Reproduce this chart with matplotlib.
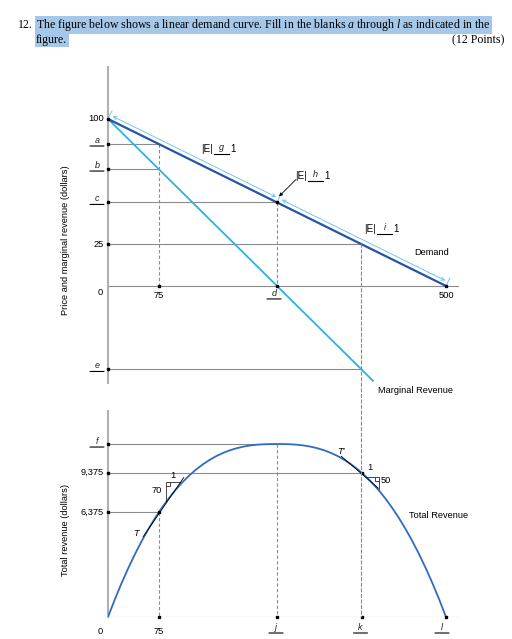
import numpy as np
import matplotlib
matplotlib.use('Agg')
from matplotlib import pyplot as plt
from matplotlib.path import Path
from matplotlib.patches import ConnectionPatch
from matplotlib.transforms import offset_copy

# ---- data ----
demand_q = [0, 500]
demand_p = [100, 0]
mr_q = [0, 392]
mr_p = [100, -56.8]

q_75, q_d, q_k, q_l = 75, 250, 375, 500
p_a, p_b, p_c, p_25, p_e = 85, 70, 50, 25, -50
q_axis_end = 518

tr_q = [0, 10, 20, 30, 40, 50, 60, 70, 80, 90, 100, 110, 120, 130, 140, 150, 160,
        170, 180, 190, 200, 210, 220, 230, 240, 250, 260, 270, 280, 290, 300, 310,
        320, 330, 340, 350, 360, 370, 380, 390, 400, 410, 420, 430, 440, 450, 460,
        470, 480, 490, 500]
tr_vals = [0, 980, 1920, 2820, 3680, 4500, 5280, 6020, 6720, 7380, 8000, 8580,
           9120, 9620, 10080, 10500, 10880, 11220, 11520, 11780, 12000, 12180,
           12320, 12420, 12480, 12500, 12480, 12420, 12320, 12180, 12000, 11780,
           11520, 11220, 10880, 10500, 10080, 9620, 9120, 8580, 8000, 7380, 6720,
           6020, 5280, 4500, 3680, 2820, 1920, 980, 0]
tr_f, tr_9375, tr_6375 = 12500, 9375, 6375
slope_t, slope_t2 = 70, -50

# ---- style ----
W, H = 512, 639
plt.rcParams['font.family'] = ['Liberation Sans', 'DejaVu Sans']
plt.rcParams['mathtext.fontset'] = 'custom'
plt.rcParams['mathtext.rm'] = 'Liberation Serif'
plt.rcParams['mathtext.it'] = 'Liberation Serif:italic'
GRAY = '#8c8c8c'
AXIS = '#b0b0b0'
DARK = '#2654a6'
CYAN = '#2cb2e6'
TRBLUE = '#2e6cc2'
LIGHT = '#72c6ee'
FS = 6.7


def box(l, t, r, b):
    return [l / W, 1 - b / H, (r - l) / W, (b - t) / H]


# schematic scale for the revenue panel (the original is not drawn to scale)
P_EXP = 1.3


def tr_fwd(v):
    u = 1 - np.asarray(v, float) / tr_f
    return 1 - np.sign(u) * np.abs(u) ** P_EXP


def tr_inv(t):
    u = 1 - np.asarray(t, float)
    return tr_f * (1 - np.sign(u) * np.abs(u) ** (1 / P_EXP))


fig = plt.figure(figsize=(W / 100, H / 100), dpi=100)
ax1 = fig.add_axes(box(108, 67, 470, 383))
ax2 = fig.add_axes(box(108, 411, 470, 617))

for ax in (ax1, ax2):
    ax.set_xlim(0, 535.5)
    for s in ('top', 'right', 'bottom'):
        ax.spines[s].set_visible(False)
    ax.spines['left'].set_color(AXIS)
    ax.spines['left'].set_linewidth(1.5)
    ax.set_xticks([])
    ax.set_yticks([])
    ax.patch.set_alpha(0)

ax1.set_ylim(-58.1, 131.1)
ax2.set_yscale('function', functions=(tr_fwd, tr_inv))
ax2.set_ylim(0, float(tr_inv(1.191)))
ax2.set_yticks([])


def off(ax, dx, dy):
    return offset_copy(ax.transData, fig=fig, x=dx, y=dy, units='dots')


def seg(ax, x0, y0, d0, x1, y1, d1, color='k', lw=0.8, style='-'):
    ax.annotate('', xy=(x1, y1), xycoords=off(ax, *d1),
                xytext=(x0, y0), textcoords=off(ax, *d0),
                arrowprops=dict(arrowstyle=style, color=color, lw=lw,
                                shrinkA=0, shrinkB=0, mutation_scale=6))


def blank(ax, x, y, letter, dx, dy, half=7):
    ax.text(x, y, letter, transform=off(ax, dx, dy + 1), ha='center', va='bottom',
            fontsize=6.5, style='italic', color='#222222')
    seg(ax, x, y, (dx - half, dy), x, y, (dx + half, dy), lw=0.8)


def hline(ax, y, x1):
    ax.plot([0, x1], [y, y], color=GRAY, lw=0.8, zorder=1)


def vdash(ax, x, y0, y1):
    ax.plot([x, x], [y0, y1], color=GRAY, lw=0.8, ls=(0, (3, 2)), zorder=1)


def dots(ax, xs, ys):
    ax.plot(xs, ys, 's', ms=1.7, color='k', clip_on=False, zorder=6)


# ---- top panel ----
hline(ax1, 0, q_axis_end)
hline(ax1, p_a, q_75)
hline(ax1, p_b, q_75)
hline(ax1, p_c, q_d)
hline(ax1, p_25, q_k)
hline(ax1, p_e, q_k)
vdash(ax1, q_75, p_a, 0)
vdash(ax1, q_d, p_c, 0)
fig.add_artist(ConnectionPatch(xyA=(q_k, p_25), coordsA=ax1.transData,
                               xyB=(q_k, 0), coordsB=ax2.transData,
                               color=GRAY, lw=0.8, ls=(0, (3, 2)), zorder=1))

ax1.plot(mr_q, mr_p, color=CYAN, lw=1.3, zorder=3, clip_on=False)
ax1.plot(demand_q, demand_p, color=DARK, lw=1.6, zorder=4)

dots(ax1, [0, 0, 0, 0, 0, 0, q_d, q_d, q_75, q_l],
     [100, p_a, p_b, p_c, p_25, p_e, p_c, 0, 0, 0])

# elasticity dimension lines above the demand curve
fig.canvas.draw()
d0 = ax1.transData.transform((demand_q[0], demand_p[0]))
d1 = ax1.transData.transform((demand_q[1], demand_p[1]))
u = (d1 - d0) / np.hypot(*(d1 - d0))
perp = np.array([-u[1], u[0]])
ends = [(0, 100), (q_d, p_c), (q_l, 0)]
for (xa, ya), (xb, yb) in zip(ends[:-1], ends[1:]):
    seg(ax1, xa, ya, tuple(perp * 4.5 + u * 3), xb, yb, tuple(perp * 4.5 - u * 3),
        color=LIGHT, lw=0.7, style='<->')
for xe, ye in ends:
    seg(ax1, xe, ye, tuple(perp * 1.5), xe, ye, tuple(perp * 9), color=LIGHT, lw=0.7)

# arrow pointing at the unit elastic point
ax1.annotate('', xy=(q_d, p_c), xycoords=off(ax1, 2, 6),
             xytext=(q_d, p_c), textcoords=off(ax1, 19, 23),
             arrowprops=dict(arrowstyle='-|>', color='k', lw=0.6,
                             shrinkA=0, shrinkB=0, mutation_scale=5))

# tick labels
for val in (100, 25):
    ax1.text(0, val, str(val), transform=off(ax1, -4, 0), ha='right', va='center', fontsize=FS)
ax1.text(0, 0, '0', transform=off(ax1, -5, -7), ha='right', va='center', fontsize=FS)
ax1.text(q_75, 0, '75', transform=off(ax1, 0, -10), ha='center', va='center', fontsize=FS)
ax1.text(q_l, 0, '500', transform=off(ax1, 0, -10), ha='center', va='center', fontsize=FS)
for val, letter in ((p_a, 'a'), (p_b, 'b'), (p_c, 'c'), (p_e, 'e')):
    blank(ax1, 0, val, letter, -11, -2)
blank(ax1, q_d, 0, 'd', -3, -13)

ax1.text(452.7, 20.2, 'Demand', ha='left', va='center', fontsize=FS)
ax1.text(399.4, -62.7, 'Marginal Revenue', ha='left', va='center', fontsize=FS)

# ---- bottom panel ----
hline(ax2, 0, q_axis_end)
hline(ax2, tr_f, q_d)
hline(ax2, tr_9375, q_k)
hline(ax2, tr_6375, q_75)
vdash(ax2, q_75, tr_6375, 0)
vdash(ax2, q_d, tr_f, 0)

ax2.plot(tr_q, tr_vals, color=TRBLUE, lw=1.3, zorder=4)

# tangents and slope triangles
t_q = np.array([52, 112])
ax2.plot(t_q, tr_6375 + slope_t * (t_q - q_75), color='k', lw=0.6, zorder=5)
tri_x = [85.4, 85.4, 106.5]
tri_y = [tr_6375 + slope_t * (85.4 - q_75), tr_6375 + slope_t * (106.5 - q_75),
         tr_6375 + slope_t * (106.5 - q_75)]
ax2.plot(tri_x, tri_y, color='k', lw=0.5, zorder=5)
t2_q = np.array([345, 400])
ax2.plot(t2_q, tr_9375 + slope_t2 * (t2_q - q_k), color='k', lw=0.6, zorder=5)
tri2_x = [382.7, 400.9, 400.9]
tri2_y = [tr_9375 + slope_t2 * (382.7 - q_k), tr_9375 + slope_t2 * (382.7 - q_k),
          tr_9375 + slope_t2 * (400.9 - q_k)]
ax2.plot(tri2_x, tri2_y, color='k', lw=0.5, zorder=5)

corner_a = Path([(1, 0), (1, -1), (0, -1)], [Path.MOVETO, Path.LINETO, Path.LINETO])
corner_b = Path([(-1, 0), (-1, -1), (0, -1)], [Path.MOVETO, Path.LINETO, Path.LINETO])
ax2.plot(tri_x[1], tri_y[1], marker=corner_a, ms=5.8, mfc='none', mec='k', mew=0.5)
ax2.plot(tri2_x[1], tri2_y[1], marker=corner_b, ms=5.8, mfc='none', mec='k', mew=0.5)

dots(ax2, [0, 0, 0, q_75, q_k, q_75, q_d, q_k, q_l],
     [tr_f, tr_9375, tr_6375, tr_6375, tr_9375, 0, 0, 0, 0])

ax2.text(0, tr_9375, '9,375', transform=off(ax2, -4, 0), ha='right', va='center', fontsize=FS)
ax2.text(0, tr_6375, '6,375', transform=off(ax2, -4, 0), ha='right', va='center', fontsize=FS)
ax2.text(0, 0, '0', transform=off(ax2, -5, -14), ha='right', va='center', fontsize=FS)
ax2.text(q_75, 0, '75', transform=off(ax2, 0, -14), ha='center', va='center', fontsize=FS)
blank(ax2, 0, tr_f, 'f', -11, -3)
blank(ax2, q_d, 0, 'j', -1, -16)
blank(ax2, q_k, 0, 'k', -1, -16)
blank(ax2, q_l, 0, 'l', -4, -16)
ax2.text(445.7, 6200, 'Total Revenue', ha='left', va='center', fontsize=FS)


# ---- free labels (pixel positions) ----
def ftext(x, y, s, **kw):
    kw.setdefault('fontsize', FS)
    return fig.text(x / W, 1 - y / H, s, ha='center', va='center', **kw)


def fline(x0, x1, y):
    fig.add_artist(plt.Line2D([x0 / W, x1 / W], [1 - y / H, 1 - y / H],
                              color='k', lw=0.8, transform=fig.transFigure))


for ex, ey, letter in ((207, 148.5, 'g'), (301, 176, 'h'), (370, 229.3, 'i')):
    ftext(ex, ey, '|E|', fontsize=7.2)
    fline(ex + 7, ex + 22, ey + 5)
    ftext(ex + 14.5, ey - 1.5, letter, fontsize=6.5, style='italic', color='#222222')
    ftext(ex + 26, ey, '1', fontsize=7)

ftext(136, 533, 'T', style='italic')
ftext(172.7, 475, '1')
ftext(156.7, 490.7, '70')
ftext(341, 451.7, "T'", style='italic')
ftext(370, 467.7, '1')
ftext(386, 480.7, '50')

ftext(66, 240, 'Price and marginal revenue (dollars)', rotation=90)
ftext(66, 530, 'Total revenue (dollars)', rotation=90)

# ---- question header ----
SERIF = ['Liberation Serif', 'DejaVu Serif']
HL = dict(boxstyle='square,pad=0.12', fc='#a6c8e8', ec='none')
fig.text(18 / W, 1 - 25 / H, '12.', family=SERIF, fontsize=8.6, va='center')
fig.text(36 / W, 1 - 25 / H,
         'The figure below shows a linear demand curve. Fill in the blanks $a$ through $l$ as indicated in the',
         family=SERIF, fontsize=8.6, va='center', bbox=HL)
fig.text(36 / W, 1 - 40 / H, 'figure.', family=SERIF, fontsize=8.6, va='center', bbox=HL)
fig.text(505 / W, 1 - 40 / H, '(12 Points)', family=SERIF, fontsize=8.6, va='center', ha='right')

fig.savefig('out.png', dpi=100)
